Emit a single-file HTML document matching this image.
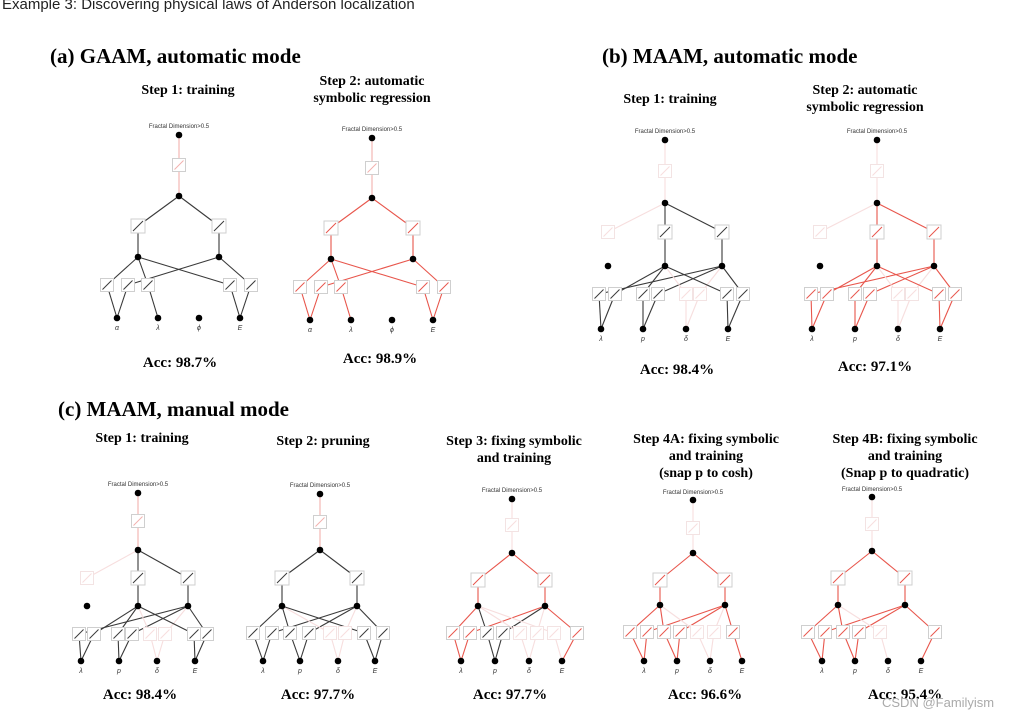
<!DOCTYPE html>
<html><head><meta charset="utf-8">
<style>
body{margin:0;background:#fff;width:1018px;height:720px;overflow:hidden;position:relative;font-family:"Liberation Serif",serif}
.t{position:absolute;font-weight:bold;white-space:nowrap}
.h{font-size:21px}
.s{font-size:14px;text-align:center;line-height:17px;transform:translateX(-50%)}
.a{font-size:15px;transform:translateX(-50%)}
svg{position:absolute;left:0;top:0}
</style></head><body>
<div style="position:absolute;left:2px;top:-4px;font:15px 'Liberation Sans',sans-serif;color:#222">Example 3: Discovering physical laws of Anderson localization</div>
<div class="t h" style="left:50px;top:44px">(a) GAAM, automatic mode</div>
<div class="t h" style="left:602px;top:44px">(b) MAAM, automatic mode</div>
<div class="t h" style="left:58px;top:397px">(c) MAAM, manual mode</div>

<div class="t s" style="left:188px;top:82px">Step 1: training</div>
<div class="t s" style="left:372px;top:73px">Step 2: automatic<br>symbolic regression</div>
<div class="t s" style="left:670px;top:91px">Step 1: training</div>
<div class="t s" style="left:865px;top:82px">Step 2: automatic<br>symbolic regression</div>
<div class="t s" style="left:142px;top:430px">Step 1: training</div>
<div class="t s" style="left:323px;top:433px">Step 2: pruning</div>
<div class="t s" style="left:514px;top:433px">Step 3: fixing symbolic<br>and training</div>
<div class="t s" style="left:706px;top:431px">Step 4A: fixing symbolic<br>and training<br>(snap p to cosh)</div>
<div class="t s" style="left:905px;top:431px">Step 4B: fixing symbolic<br>and training<br>(Snap p to quadratic)</div>

<div class="t a" style="left:180px;top:355px">Acc: 98.7%</div>
<div class="t a" style="left:380px;top:351px">Acc: 98.9%</div>
<div class="t a" style="left:677px;top:362px">Acc: 98.4%</div>
<div class="t a" style="left:875px;top:359px">Acc: 97.1%</div>
<div class="t a" style="left:140px;top:687px">Acc: 98.4%</div>
<div class="t a" style="left:318px;top:687px">Acc: 97.7%</div>
<div class="t a" style="left:510px;top:687px">Acc: 97.7%</div>
<div class="t a" style="left:705px;top:687px">Acc: 96.6%</div>
<div class="t a" style="left:905px;top:687px">Acc: 95.4%</div>
<div style="position:absolute;left:882px;top:695px;font:13px 'Liberation Sans',sans-serif;color:#aaa">CSDN @Familyism</div>

<svg id="g" width="1018" height="720" font-family="Liberation Sans, sans-serif">
<g font-size="6" fill="#333" text-anchor="middle">
<text x="179" y="128">Fractal Dimension&gt;0.5</text>
<text x="372" y="131">Fractal Dimension&gt;0.5</text>
<text x="665" y="133">Fractal Dimension&gt;0.5</text>
<text x="877" y="133">Fractal Dimension&gt;0.5</text>
<text x="138" y="486">Fractal Dimension&gt;0.5</text>
<text x="320" y="487">Fractal Dimension&gt;0.5</text>
<text x="512" y="492">Fractal Dimension&gt;0.5</text>
<text x="693" y="494">Fractal Dimension&gt;0.5</text>
<text x="872" y="491">Fractal Dimension&gt;0.5</text>
</g>
<g font-size="7" font-style="italic" fill="#333" text-anchor="middle">
<text x="117" y="330">α</text><text x="158" y="330">λ</text><text x="199" y="330">ϕ</text><text x="240" y="330">E</text>
<text x="310" y="332">α</text><text x="351" y="332">λ</text><text x="392" y="332">ϕ</text><text x="433" y="332">E</text>
<text x="601" y="341">λ</text><text x="643" y="341">p</text><text x="686" y="341">δ</text><text x="728" y="341">E</text>
<text x="812" y="341">λ</text><text x="855" y="341">p</text><text x="898" y="341">δ</text><text x="940" y="341">E</text>
<text x="81" y="673">λ</text><text x="119" y="673">p</text><text x="157" y="673">δ</text><text x="195" y="673">E</text>
<text x="263" y="673">λ</text><text x="300" y="673">p</text><text x="338" y="673">δ</text><text x="375" y="673">E</text>
<text x="461" y="673">λ</text><text x="495" y="673">p</text><text x="529" y="673">δ</text><text x="562" y="673">E</text>
<text x="644" y="673">λ</text><text x="677" y="673">p</text><text x="710" y="673">δ</text><text x="742" y="673">E</text>
<text x="822" y="673">λ</text><text x="855" y="673">p</text><text x="888" y="673">δ</text><text x="921" y="673">E</text>
</g>
</svg>
<script>
var C={k:'#3a3a3a',r:'#e8564c',f:'#f7dede',p:'#f2b0ae'};
var svg=document.getElementById('g'),NS='http://www.w3.org/2000/svg';
function el(n,a){var e=document.createElementNS(NS,n);for(var k in a)e.setAttribute(k,a[k]);svg.appendChild(e);return e}
function L(x1,y1,x2,y2,c){el('line',{x1:x1,y1:y1,x2:x2,y2:y2,stroke:C[c],'stroke-width':1.1})}
function B(x,y,s,c){el('rect',{x:x-s/2,y:y-s/2,width:s,height:s,fill:'#fff',stroke:c=='f'?'#f3e3e3':'#cfcfcf','stroke-width':1});
 el('line',{x1:x-s/2+2,y1:y+s/2-2,x2:x+s/2-2,y2:y-s/2+2,stroke:C[c],'stroke-width':1})}
function N(x,y,r){el('circle',{cx:x,cy:y,r:r||3.3,fill:'#000'})}
function G(o){var y=o.y,cx=o.cx;
 L(cx,y[0],cx,y[2],o.tc);
 o.hx.forEach(function(h){L(cx,y[2],h,y[3],o.uc);L(h,y[3],h,y[4],o.uc)});
 if(o.ex){L(cx,y[2],o.ex,y[3],'f');}
 o.bx.forEach(function(b){L(o.hx[b[1]],y[4],b[0],y[5],b[3]);L(b[0],y[5],o.ix[b[2]],y[6],b[3])});
 B(cx,y[1],13,o.tc=='f'?'f':'p');
 o.hx.forEach(function(h){B(h,y[3],14,o.uc)});
 if(o.ex){B(o.ex,y[3],13,'f');N(o.ex,y[4]);}
 o.bx.forEach(function(b){B(b[0],y[5],13,b[3])});
 N(cx,y[0]);N(cx,y[2]);o.hx.forEach(function(h){N(h,y[4])});o.ix.forEach(function(i){N(i,y[6])});
}
function sh(bx,d,col){return bx.map(function(b){return [b[0]+d,b[1],b[2],b[3]=='f'?'f':col]})}
var a1=[[107,0,0,'k'],[128,1,0,'k'],[148,0,1,'k'],[230,0,3,'k'],[251,1,3,'k']];
G({cx:179,y:[135,165,196,226,257,285,318],hx:[138,219],ix:[117,158,199,240],tc:'p',uc:'k',bx:a1});
G({cx:372,y:[138,168,198,228,259,287,320],hx:[331,413],ix:[310,351,392,433],tc:'p',uc:'r',bx:sh(a1,193,'r')});
var b1=[[599,1,0,'k'],[615,0,0,'k'],[643,0,1,'k'],[658,1,1,'k'],[686,0,2,'f'],[700,1,2,'f'],[727,0,3,'k'],[743,1,3,'k']];
G({cx:665,y:[140,171,203,232,266,294,329],hx:[665,722],ix:[601,643,686,728],tc:'f',uc:'k',ex:608,bx:b1});
G({cx:877,y:[140,171,203,232,266,294,329],hx:[877,934],ix:[812,855,898,940],tc:'f',uc:'r',ex:820,bx:sh(b1,212,'r')});
G({cx:138,y:[493,521,550,578,606,634,661],hx:[138,188],ix:[81,119,157,195],tc:'p',uc:'k',ex:87,
 bx:[[79,1,0,'k'],[94,0,0,'k'],[118,0,1,'k'],[132,1,1,'k'],[150,0,2,'f'],[165,1,2,'f'],[194,0,3,'k'],[207,1,3,'k']]});
G({cx:320,y:[494,522,550,578,606,633,661],hx:[282,357],ix:[263,300,338,375],tc:'p',uc:'k',
 bx:[[253,0,0,'k'],[272,1,0,'k'],[290,0,1,'k'],[309,1,1,'k'],[330,0,2,'f'],[345,1,2,'f'],[364,0,3,'k'],[383,1,3,'k']]});
G({cx:512,y:[499,525,553,580,606,633,661],hx:[478,545],ix:[461,495,529,562],tc:'f',uc:'r',
 bx:[[453,0,0,'r'],[470,1,0,'r'],[487,0,1,'k'],[503,1,1,'k'],[520,0,2,'f'],[537,1,2,'f'],[554,0,3,'f'],[577,1,3,'r']]});
G({cx:693,y:[500,528,553,580,605,632,661],hx:[660,725],ix:[644,677,710,742],tc:'f',uc:'r',
 bx:[[630,0,0,'r'],[647,1,0,'r'],[664,0,1,'r'],[680,1,1,'r'],[697,0,2,'f'],[714,1,2,'f'],[733,1,3,'r']]});
G({cx:872,y:[497,524,551,578,605,632,661],hx:[838,905],ix:[822,855,888,921],tc:'f',uc:'r',
 bx:[[808,0,0,'r'],[825,1,0,'r'],[843,0,1,'r'],[859,1,1,'r'],[880,0,2,'f'],[935,1,3,'r']]});
</script>
</body></html>
